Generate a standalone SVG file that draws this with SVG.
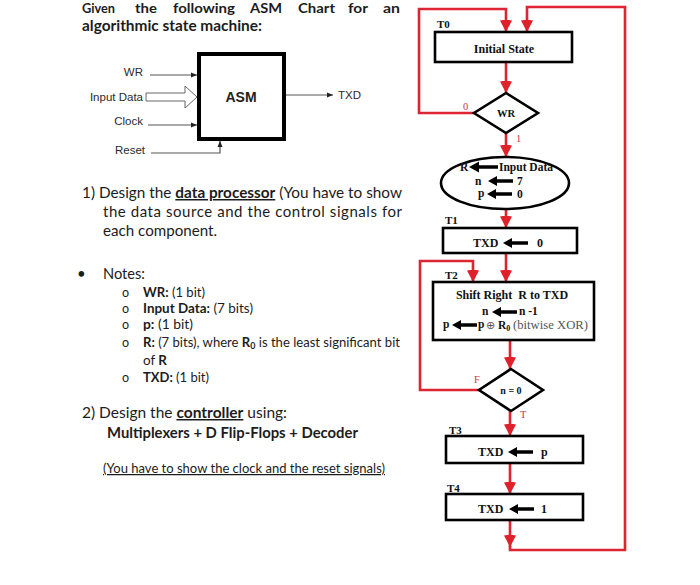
<svg xmlns="http://www.w3.org/2000/svg" width="700" height="585" viewBox="0 0 700 585">
<defs>
<style>
.doc{font-family:Lato,"Liberation Sans",sans-serif;fill:#1c1c1c}
.b{font-weight:bold}
.u{text-decoration:underline}
.lbl{font-family:"Liberation Sans",Arial,sans-serif;font-size:11.5px;fill:#2a2a2a}
.ch{font-family:"Liberation Serif","Times New Roman",serif;font-weight:bold;fill:#111}
.box{fill:#fff;stroke:#000;stroke-width:2.6}
.red{fill:none;stroke:#dc2530;stroke-width:2.6}
.rl{font-family:"Liberation Serif","Times New Roman",serif;font-size:10.5px;fill:#c8374a}
.wire{fill:none;stroke:#555;stroke-width:1.2}
</style>
<marker id="ra" viewBox="0 0 12 12" refX="12" refY="6" markerWidth="12" markerHeight="12" markerUnits="userSpaceOnUse" orient="auto"><path d="M0.5,0 L12,6 L0.5,12 Q-0.8,6 0.5,0 Z" fill="#e0202a"/></marker>
<marker id="ka" viewBox="0 0 6 6" refX="6" refY="3" markerWidth="6" markerHeight="6" markerUnits="userSpaceOnUse" orient="auto"><path d="M0,0.5 L6,3 L0,5.5 Z" fill="#222"/></marker>
<path id="la" d="M0,0 L9,-5 L9,-1.7 L25,-1.7 L25,1.7 L9,1.7 L9,5 Z" fill="#000"/>
<path id="la30" d="M0,0 L10,-5.5 L10,-1.8 L29,-1.8 L29,1.8 L10,1.8 L10,5.5 Z" fill="#000"/>
</defs>
<rect width="700" height="585" fill="#fff"/>

<g id="title" class="doc b" font-size="13.5">
<text x="82" y="13" textLength="33" lengthAdjust="spacingAndGlyphs">Given</text>
<text x="135" y="13" textLength="22" lengthAdjust="spacingAndGlyphs">the</text>
<text x="173" y="13" textLength="62" lengthAdjust="spacingAndGlyphs">following</text>
<text x="250" y="13" textLength="32" lengthAdjust="spacingAndGlyphs">ASM</text>
<text x="298" y="13" textLength="37" lengthAdjust="spacingAndGlyphs">Chart</text>
<text x="348" y="13" textLength="20" lengthAdjust="spacingAndGlyphs">for</text>
<text x="383" y="13" textLength="17" lengthAdjust="spacingAndGlyphs">an</text>
<text x="82" y="31" font-size="14.5" textLength="180" lengthAdjust="spacingAndGlyphs">algorithmic state machine:</text>
</g>

<g id="asm-block">
<rect x="199" y="54" width="85" height="85" fill="#fff" stroke="#000" stroke-width="4"/>
<text x="241" y="102" font-family="Liberation Sans,Arial,sans-serif" font-weight="bold" font-size="14" text-anchor="middle" fill="#222">ASM</text>
<text class="lbl" x="143" y="76" text-anchor="end">WR</text>
<text class="lbl" x="143" y="101" text-anchor="end">Input Data</text>
<text class="lbl" x="143" y="125" text-anchor="end">Clock</text>
<text class="lbl" x="145" y="154" text-anchor="end">Reset</text>
<text class="lbl" x="338" y="99" font-size="11px">TXD</text>
<path class="wire" d="M150,75 H197" marker-end="url(#ka)"/>
<path class="wire" d="M148,125 H197" marker-end="url(#ka)"/>
<path class="wire" d="M151,153 H220 V141" marker-end="url(#ka)"/>
<path class="wire" d="M286,95 H333" marker-end="url(#ka)"/>
<path d="M146,93 H185 V86 L197,97 L185,108 V101 H146 Z" fill="#fff" stroke="#666" stroke-width="1"/>
</g>

<g id="question1" class="doc">
<text x="82" y="198" font-size="15" textLength="320" lengthAdjust="spacingAndGlyphs">1) Design the <tspan class="b u">data processor</tspan> (You have to show</text>
<text x="103" y="217" font-size="15" textLength="299" lengthAdjust="spacing">the data source and the control signals for</text>
<text x="103" y="236" font-size="15" textLength="114" lengthAdjust="spacingAndGlyphs">each component.</text>
<text x="77" y="279" font-size="15">•</text>
<text x="103" y="279" font-size="15" textLength="42" lengthAdjust="spacingAndGlyphs">Notes:</text>
<g font-size="12.5">
<text x="122" y="297">o</text>
<text x="143" y="297" textLength="62" lengthAdjust="spacingAndGlyphs"><tspan class="b">WR:</tspan> (1 bit)</text>
<text x="122" y="313">o</text>
<text x="143" y="313" textLength="110" lengthAdjust="spacingAndGlyphs"><tspan class="b">Input Data:</tspan> (7 bits)</text>
<text x="122" y="329">o</text>
<text x="143" y="329" textLength="50" lengthAdjust="spacingAndGlyphs"><tspan class="b">p:</tspan> (1 bit)</text>
<text x="122" y="347">o</text>
<text x="143" y="347" textLength="257" lengthAdjust="spacingAndGlyphs"><tspan class="b">R:</tspan> (7 bits), where <tspan class="b">R</tspan><tspan class="b" font-size="8.5" dy="2">0</tspan><tspan dy="-2"> is the least significant bit</tspan></text>
<text x="143" y="365" textLength="24" lengthAdjust="spacingAndGlyphs">of <tspan class="b">R</tspan></text>
<text x="122" y="382">o</text>
<text x="143" y="382" textLength="66" lengthAdjust="spacingAndGlyphs"><tspan class="b">TXD:</tspan> (1 bit)</text>
</g>
</g>

<g id="question2" class="doc">
<text x="82" y="418" font-size="15" textLength="205" lengthAdjust="spacingAndGlyphs">2) Design the <tspan class="b u">controller</tspan> using:</text>
<text x="107" y="438" font-size="15" class="b" textLength="251" lengthAdjust="spacingAndGlyphs">Multiplexers + D Flip-Flops + Decoder</text>
<text x="103" y="473" font-size="12.5" class="u" textLength="282" lengthAdjust="spacingAndGlyphs">(You have to show the clock and the reset signals)</text>
</g>

<g id="connectors">
<path class="red" d="M506,62 V93" marker-end="url(#ra)"/>
<path class="red" d="M506,133 V157" marker-end="url(#ra)"/>
<path class="red" d="M506,209 V228" marker-end="url(#ra)"/>
<path class="red" d="M506,253 V282" marker-end="url(#ra)"/>
<path class="red" d="M510,340 V369" marker-end="url(#ra)"/>
<path class="red" d="M510,410 V436" marker-end="url(#ra)"/>
<path class="red" d="M510,463 V494" marker-end="url(#ra)"/>
<path class="red" d="M510,520 V547" marker-end="url(#ra)"/>
<path class="red" d="M474,113 H419 V9 H506 V32" marker-end="url(#ra)"/>
<path class="red" d="M480,390 H420 V261 H473 V282" marker-end="url(#ra)"/>
<path class="red" d="M510,546 V550 H625 V7 H527 V32" marker-end="url(#ra)"/>
<text class="rl" x="463" y="110">0</text>
<text class="rl" x="516" y="142">1</text>
<text class="rl" x="474" y="383">F</text>
<text class="rl" x="520" y="418">T</text>
</g>

<g id="t0-initial-state">
<text class="ch" x="437" y="28" font-size="11">T0</text>
<rect class="box" x="435" y="32" width="137" height="30"/>
<text class="ch" x="504" y="53" font-size="12" text-anchor="middle">Initial State</text>
</g>

<g id="wr-decision">
<path class="box" d="M506,93 L538,113 L506,133 L474,113 Z"/>
<text class="ch" x="506" y="117" font-size="10.5" text-anchor="middle">WR</text>
</g>

<g id="load-operations">
<ellipse class="box" cx="505" cy="183" rx="64" ry="26"/>
<text class="ch" x="460" y="171" font-size="11.5">R</text>
<use href="#la30" x="469" y="167"/>
<text class="ch" x="499" y="171" font-size="11.5" textLength="54" lengthAdjust="spacingAndGlyphs">Input Data</text>
<text class="ch" x="475" y="185" font-size="11.5">n</text>
<use href="#la" x="488" y="181"/>
<text class="ch" x="517" y="185" font-size="11.5">7</text>
<text class="ch" x="478" y="197" font-size="11.5">p</text>
<use href="#la" x="487" y="194"/>
<text class="ch" x="517" y="198" font-size="11.5">0</text>
</g>

<g id="t1-txd0">
<text class="ch" x="445" y="224" font-size="11">T1</text>
<rect class="box" x="443" y="228" width="134" height="25"/>
<text class="ch" x="473" y="247" font-size="12">TXD</text>
<use href="#la" x="503" y="243"/>
<text class="ch" x="537" y="247" font-size="12">0</text>
</g>

<g id="t2-shift">
<text class="ch" x="445" y="279" font-size="11">T2</text>
<rect class="box" x="433" y="282" width="161" height="58"/>
<text class="ch" x="512" y="299" font-size="12" text-anchor="middle" xml:space="preserve">Shift Right  R to TXD</text>
<text class="ch" x="482" y="315" font-size="11.5">n</text>
<use href="#la" x="492" y="312"/>
<text class="ch" x="519" y="315" font-size="11.5">n -1</text>
<text class="ch" x="443" y="328" font-size="11.5">p</text>
<use href="#la" x="452" y="325"/>
<text class="ch" x="478" y="328" font-size="11.5">p</text>
<text x="486" y="329" font-family="DejaVu Sans,sans-serif" font-size="11" fill="#555">⊕</text>
<text class="ch" x="498" y="329" font-size="11.5">R<tspan font-size="8" dy="1.5">0</tspan></text>
<text x="513" y="329" font-family="Liberation Serif,serif" font-size="11.5" fill="#555" textLength="75" lengthAdjust="spacingAndGlyphs">(bitwise XOR)</text>
</g>

<g id="n-decision">
<path class="box" d="M511,369 L543,390 L511,411 L479,390 Z"/>
<text class="ch" x="511" y="394" font-size="10" text-anchor="middle" fill="#444">n = 0</text>
</g>

<g id="t3-txdp">
<text class="ch" x="449" y="434" font-size="11">T3</text>
<rect class="box" x="446" y="436" width="137" height="27"/>
<text class="ch" x="478" y="456" font-size="12">TXD</text>
<use href="#la" x="508" y="452"/>
<text class="ch" x="541" y="456" font-size="12">p</text>
</g>

<g id="t4-txd1">
<text class="ch" x="447" y="492" font-size="11">T4</text>
<rect class="box" x="446" y="494" width="137" height="26"/>
<text class="ch" x="478" y="513" font-size="12">TXD</text>
<use href="#la" x="509" y="509"/>
<text class="ch" x="541" y="513" font-size="12">1</text>
</g>
</svg>
